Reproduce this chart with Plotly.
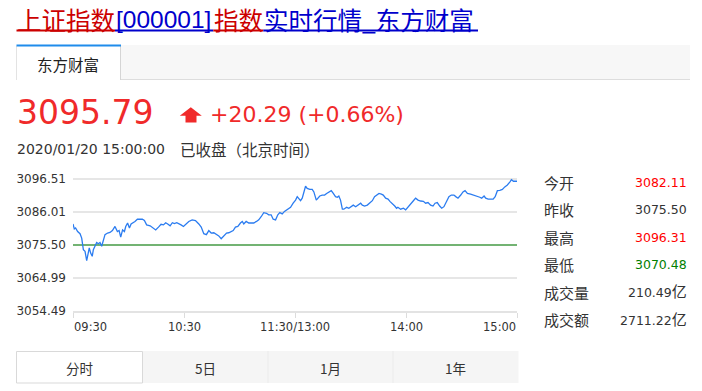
import plotly.graph_objects as go

# ---------------- data ----------------
minutes = [0, 0.7, 1.4, 2.5, 3.8, 4.7, 5.6, 6.5, 7.4, 8.3, 8.8, 9.5, 10.4, 11.0, 11.9, 12.8, 13.7, 14.6,
           15.5, 16.4, 17.3, 18.7, 20.0, 21.3, 22.7, 24.0, 24.9, 25.8, 26.8, 27.8, 28.5, 29.5, 30.5, 31.4,
           32.6, 33.5, 34.8, 36.3, 37.5, 38.6, 39.8, 41.7, 43.5, 44.7, 46.2, 47.6, 48.9, 50.1, 51.2, 52.5,
           53.7, 54.8, 56.1, 57.4, 58.4, 59.7, 60.9, 62.6, 64.4, 66.2, 68.0, 69.3, 70.7, 72.1, 73.4, 74.7,
           76.1, 77.5, 78.8, 80.1, 81.5, 83.0, 84.2, 85.5, 86.6, 87.8, 89.1, 90.5, 91.5, 92.3, 93.6, 95.0,
           96.3, 97.7, 99.2, 100.4, 101.7, 103.1, 104.6, 105.8, 107.1, 108.2, 109.5, 110.7, 111.8, 113.1,
           114.3, 115.4, 116.7, 117.6, 119.0, 120.3, 121.2, 122.1, 123.0, 123.9, 124.8, 125.7, 126.6, 128.0,
           129.3, 130.2, 131.5, 132.4, 133.4, 134.7, 136.0, 137.1, 138.3, 139.6, 140.7, 141.9, 142.9, 143.7,
           144.6, 145.6, 146.4, 147.9, 149.1, 150.4, 151.5, 152.8, 154.0, 155.5, 156.4, 157.6, 159.1, 160.5,
           161.8, 163.0, 164.1, 165.4, 166.7, 167.7, 169.0, 170.3, 171.3, 172.6, 173.9, 174.9, 175.6, 177.1,
           178.6, 179.8, 181.1, 182.5, 184.0, 185.2, 186.5, 187.9, 189.4, 190.6, 191.9, 193.3, 194.6, 195.7,
           196.9, 198.2, 199.3, 200.5, 202.0, 203.2, 204.5, 205.9, 206.9, 208.1, 209.6, 210.8, 211.9, 213.2,
           214.9, 216.8, 218.6, 219.9, 220.9, 222.2, 223.1, 224.4, 225.8, 227.1, 228.2, 229.4, 230.7, 232.1,
           233.4, 234.8, 236.2, 237.0, 238.1, 239.3, 240.0]
prices = [3082.2, 3080.6, 3080.9, 3079.8, 3079.1, 3077.7, 3074.0, 3073.5, 3070.5, 3073.0, 3074.6, 3073.0,
          3071.9, 3074.0, 3075.1, 3076.3, 3075.9, 3076.3, 3075.1, 3077.2, 3078.8, 3079.3, 3079.5, 3080.1,
          3081.4, 3079.8, 3080.1, 3078.0, 3080.3, 3079.8, 3081.4, 3082.5, 3080.9, 3082.2, 3082.6, 3083.0,
          3083.7, 3083.7, 3083.7, 3083.3, 3081.9, 3081.6, 3080.9, 3080.3, 3081.2, 3082.1, 3081.9, 3082.6,
          3082.2, 3081.6, 3082.6, 3082.3, 3082.6, 3082.3, 3081.9, 3081.4, 3082.2, 3083.0, 3083.5, 3083.3,
          3082.2, 3081.2, 3079.1, 3078.8, 3080.1, 3079.3, 3079.4, 3078.8, 3078.4, 3077.5, 3078.4, 3079.3,
          3079.4, 3079.8, 3080.1, 3081.2, 3081.4, 3082.5, 3083.0, 3082.2, 3083.0, 3082.5, 3082.6, 3082.5,
          3083.0, 3083.5, 3084.5, 3085.8, 3085.6, 3085.1, 3085.1, 3083.7, 3083.5, 3085.1, 3085.8, 3085.4,
          3086.2, 3086.7, 3087.2, 3087.5, 3088.8, 3089.8, 3090.9, 3090.4, 3089.6, 3090.4, 3092.4, 3094.2,
          3093.5, 3093.2, 3093.2, 3092.4, 3089.8, 3090.4, 3091.1, 3091.4, 3091.4, 3091.9, 3092.4, 3092.8,
          3091.9, 3090.9, 3090.7, 3091.1, 3089.8, 3086.9, 3086.9, 3087.5, 3087.2, 3087.9, 3088.2, 3087.7,
          3088.2, 3088.8, 3088.2, 3087.9, 3088.2, 3088.8, 3089.6, 3090.9, 3091.4, 3091.9, 3091.7, 3091.4,
          3090.4, 3090.1, 3089.4, 3088.8, 3087.9, 3087.2, 3087.5, 3086.9, 3087.2, 3086.7, 3087.7, 3088.8,
          3089.6, 3090.4, 3089.8, 3089.5, 3089.4, 3088.8, 3089.0, 3088.2, 3087.9, 3088.8, 3089.0, 3087.9,
          3087.2, 3087.7, 3089.4, 3090.9, 3091.4, 3091.4, 3090.9, 3090.4, 3091.4, 3092.4, 3092.8, 3091.9,
          3091.7, 3091.4, 3091.1, 3090.7, 3090.4, 3091.1, 3090.4, 3090.1, 3090.1, 3090.1, 3090.9, 3092.8,
          3092.9, 3093.2, 3094.0, 3094.6, 3095.6, 3096.3, 3095.8, 3095.8, 3095.79]
prev_close = 3075.50
y_tick_vals = [3054.49, 3064.99, 3075.50, 3086.01, 3096.51]
x_tick_vals = [0, 60, 120, 180, 240]
x_tick_text = ["09:30", "10:30", "11:30/13:00", "14:00", "15:00"]
x_tick_anchor = ["left", "center", "center", "center", "right"]

title_parts = ["上证指数", "[000001]", "指数", "实时行情_东方财富"]
tab_name = "东方财富"
last_price = "3095.79"
change_text = "+20.29 (+0.66%)"
time_text = "2020/01/20 15:00:00"
status_text = "已收盘（北京时间）"
stat_labels = ["今开", "昨收", "最高", "最低", "成交量", "成交额"]
stat_values = ["3082.11", "3075.50", "3096.31", "3070.48", "210.49", "2711.22"]
stat_units = ["", "", "", "", "亿", "亿"]
stat_colors = ["#ff0000", "#333333", "#ff0000", "#008000", "#333333", "#333333"]
period_tabs = ["分时", "5日", "1月", "1年"]

# ---------------- layout helpers ----------------
W, H = 702, 391
HEAD_PX = 3                      # head-room (px) above the top grid line so it is drawn
ML, MR, MT, MB = 73, 185, 179 - HEAD_PX, 80
PW, PH = W - ML - MR, H - MT - MB
Y_PAD = (y_tick_vals[-1] - y_tick_vals[0]) / (PH - HEAD_PX) * HEAD_PX

def px(x):
    return (x - ML) / PW

def py(y):
    return (H - MB - y) / PH

CJK = "Noto Sans CJK SC"
NUM = "DejaVu Sans, Noto Sans CJK SC"
RED = "#f02a2a"

annotations = []
shapes = []

def text(x, y, s, size, color, family, anchor="left"):
    annotations.append(dict(x=px(x), y=py(y), xref="paper", yref="paper", text=s,
                            showarrow=False, xanchor=anchor, yanchor="middle", borderpad=0,
                            font=dict(size=size, color=color, family=family)))

def rect(x0, y0, x1, y1, fill, line=None, lw=0):
    shapes.append(dict(type="rect", xref="paper", yref="paper", x0=px(x0), x1=px(x1),
                       y0=py(y0), y1=py(y1), fillcolor=fill,
                       line=dict(color=line or fill, width=lw)))

def hline(x0, x1, y, color, w=1):
    shapes.append(dict(type="line", xref="paper", yref="paper", x0=px(x0), x1=px(x1),
                       y0=py(y), y1=py(y), line=dict(color=color, width=w)))

def vline(x, y0, y1, color, w=1):
    shapes.append(dict(type="line", xref="paper", yref="paper", x0=px(x), x1=px(x),
                       y0=py(y0), y1=py(y1), line=dict(color=color, width=w)))

# ---- title (links) ----
title_x = [16, 115, 213, 263]
title_c = ["#cc0000", "#0000cc", "#cc0000", "#0000cc"]
title_f = [CJK, "Liberation Sans", CJK, CJK]
for s, x, c, f in zip(title_parts, title_x, title_c, title_f):
    text(x, 19, s, 24.5, c, f)
ul_edges = [16.5, 115, 213.3, 263.3, 478]
for i in range(4):
    hline(ul_edges[i], ul_edges[i + 1], 30.5, title_c[i], 2)

# ---- tab bar ----
rect(16.5, 45, 690, 79.5, "#f7f7f7")
hline(120, 690, 79.5, "#dddddd", 1)
rect(16.5, 46, 120, 80, "#ffffff")
vline(16.5, 46, 80, "#e3e3e3", 1)
vline(120.5, 46, 80, "#d5d5d5", 1)
hline(16.5, 121, 45.5, "#1f8ceb", 2)
text(68, 63.5, tab_name, 15.5, "#222222", CJK, "center")

# ---- price header ----
text(16, 112, last_price, 33, RED, "DejaVu Sans")
arrow = [(190.8, 107.2), (201.8, 115.7), (196.5, 115.7), (196.5, 122.5), (185.5, 122.5),
         (185.5, 115.7), (179.8, 115.7)]
path = "M " + " L ".join(f"{px(a):.5f},{py(b):.5f}" for a, b in arrow) + " Z"
shapes.append(dict(type="path", xref="paper", yref="paper", path=path, fillcolor=RED,
                   line=dict(color=RED, width=0)))
text(209, 114.5, change_text, 22, RED, "DejaVu Sans")
text(15.5, 149, time_text, 14, "#333333", "DejaVu Sans")
text(179, 149, status_text, 15.5, "#333333", CJK)

# ---- stats table ----
for i, (lab, val, unit, col) in enumerate(zip(stat_labels, stat_values, stat_units, stat_colors)):
    yy = 182.5 + i * 27.4
    text(543, yy, lab, 15, "#333333", CJK)
    s = val + (f"<span style='font-size:15px'>{unit}</span>" if unit else "")
    text(688, yy, s, 12.5, col, NUM, "right")

# ---- period buttons ----
edges = [16.5, 142.5, 268, 393, 518.5]
rect(142.5, 351, 518.5, 383, "#f5f5f5")
rect(16.5, 351.5, 142.5, 383, "#ffffff", "#d9d9d9", 1)
vline(268, 351, 383, "#ebebeb", 1)
vline(393, 351, 383, "#ebebeb", 1)
for i, lab in enumerate(period_tabs):
    text((edges[i] + edges[i + 1]) / 2, 367.5, lab, 13.5, "#333333", CJK, "center")

# ---- x tick labels ----
for v, s, a in zip(x_tick_vals, x_tick_text, x_tick_anchor):
    annotations.append(dict(x=v, xref="x", y=py(327), yref="paper", text=s, showarrow=False,
                            xanchor=a, yanchor="middle", borderpad=0,
                            font=dict(size=11.5, color="#333333", family="DejaVu Sans")))

# ---------------- figure ----------------
fig = go.Figure()
fig.add_trace(go.Scatter(x=[x_tick_vals[0], x_tick_vals[-1]], y=[prev_close, prev_close],
                         mode="lines", line=dict(color="#008000", width=1.2), hoverinfo="skip"))
fig.add_trace(go.Scatter(x=minutes, y=prices, mode="lines",
                         line=dict(color="#2b7cf0", width=1.3), hoverinfo="skip"))

fig.update_layout(
    width=W, height=H, margin=dict(l=ML, r=MR, t=MT, b=MB, pad=0),
    paper_bgcolor="white", plot_bgcolor="white", showlegend=False,
    annotations=annotations, shapes=shapes,
    xaxis=dict(range=[x_tick_vals[0], x_tick_vals[-1]], tickvals=x_tick_vals, showticklabels=False,
               showgrid=False, zeroline=False, showline=True, linecolor="#e3e3e3", linewidth=2,
               ticks="outside", ticklen=5, tickcolor="#dcdcdc", tickwidth=1, fixedrange=True),
    yaxis=dict(range=[y_tick_vals[0], y_tick_vals[-1] + Y_PAD], tickvals=y_tick_vals,
               ticktext=[f"{v:.2f}" for v in y_tick_vals], showgrid=True, gridcolor="#e6e6e6",
               gridwidth=2, zeroline=False, showline=False, ticks="", ticklabelstandoff=6,
               tickfont=dict(size=12, color="#333333", family="DejaVu Sans"), fixedrange=True),
)

fig.write_html("out.html")
